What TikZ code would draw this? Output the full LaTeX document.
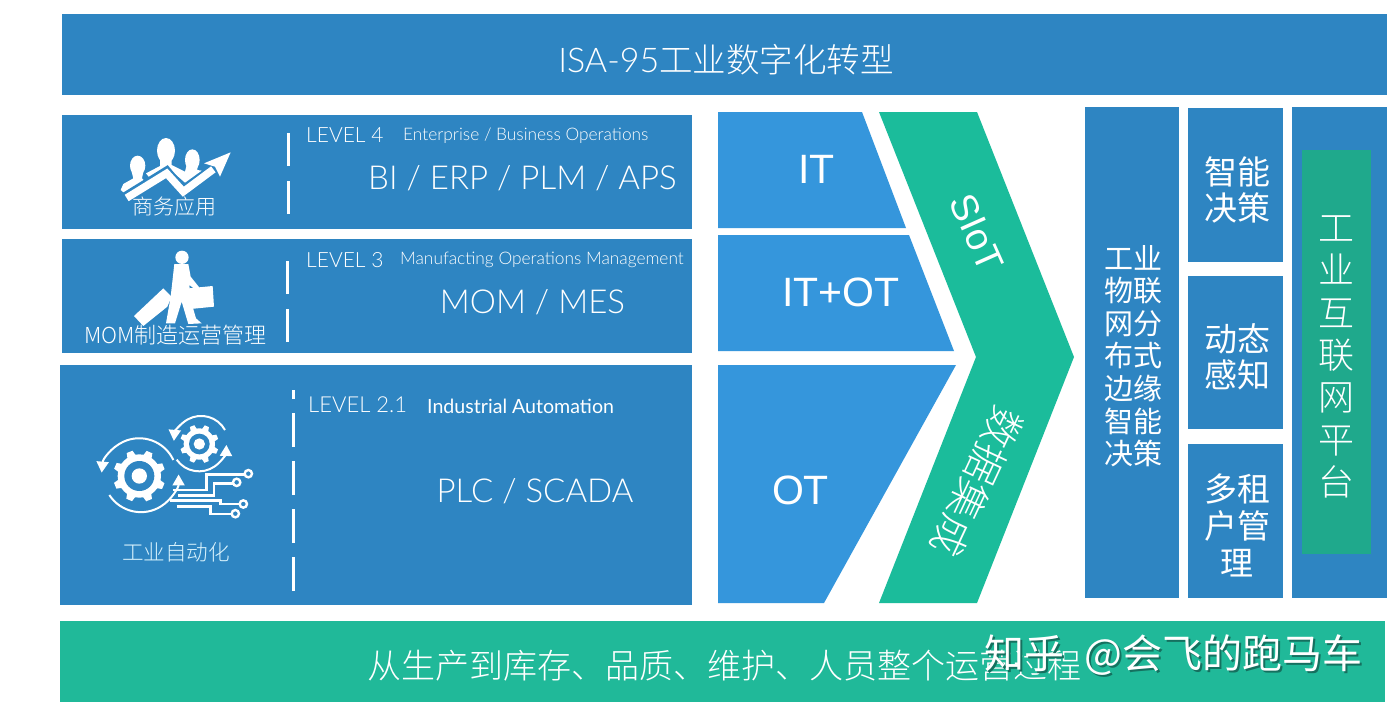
\documentclass[tikz,border=0pt]{standalone}
\usepackage{fontspec}
\usepackage{xcolor}
\usetikzlibrary{arrows.meta}
\setmainfont{Lato Light}
\newfontfamily\lato{Lato}
\newfontfamily\cjk{Noto Sans CJK SC Light}
\newfontfamily\cjkreg{Noto Sans CJK SC}
\newfontfamily\arial{Liberation Sans}
\definecolor{panelblue}{HTML}{2E85C2}
\definecolor{blockblue}{HTML}{3596DC}
\definecolor{chevgreen}{HTML}{1BBC9B}
\definecolor{bargreen}{HTML}{20B999}
\definecolor{innergreen}{HTML}{1FA98C}
\definecolor{shadowgreen}{HTML}{15705F}
\begin{document}
\begin{tikzpicture}[
    x=1pt, y=-1pt,
    panel/.style={fill=panelblue, inner sep=0pt, text=white},
    txt/.style={inner sep=0pt, text=white, align=center},
    lvl/.style={txt, anchor=west, font=\fontsize{21}{21}\selectfont},
    sub/.style={txt, anchor=west, font=\fontsize{17.3}{17.3}\selectfont},
    big/.style={txt, font=\fontsize{33}{33}\selectfont},
    blk/.style={txt, font=\arial\fontsize{41}{41}\selectfont},
    tag/.style={txt, font=\cjk\fontsize{21}{21}\selectfont},
    divider/.style={white, line width=3pt},
    wire/.style={white, line width=2.4pt},
    turn/.style={white, line width=2pt, -{Triangle[length=11pt, width=12pt]}}
]
\useasboundingbox (0,0) rectangle (1400,715);
\fill[white] (0,0) rectangle (1400,715);

% title and bottom bars
\node[panel, minimum width=1325, minimum height=81] (title) at (724.5,54.5) {};
\node[txt, font=\fontsize{34}{34}\selectfont] (titletext) at (726,60) {ISA-95{\cjk\fontsize{33.5}{33.5}\selectfont 工业数字化转型}};
\node[panel, fill=bargreen, minimum width=1325, minimum height=81] (flow) at (722.5,661.5) {};
\node[txt, font=\cjk\fontsize{34}{34}\selectfont] (flowtext) at (724,666) {从生产到库存、品质、维护、人员整个运营过程};

% levels
\node[panel, minimum width=630, minimum height=114] (lv4) at (377,172) {};
\node[panel, minimum width=630, minimum height=114] (lv3) at (377,296) {};
\node[panel, minimum width=632, minimum height=240] (lv2) at (376,485) {};
\draw[divider, dash pattern=on 33pt off 15pt] (288.5,214) -- (288.5,133);
\draw[divider, dash pattern=on 33pt off 15pt] (287.5,342) -- (287.5,261);
\draw[divider, dash pattern=on 34pt off 14pt] (293.5,591) -- (293.5,390);

\node[lvl] (lv4name) at (306,135) {LEVEL 4};
\node[sub] (lv4sub) at (403,136) {Enterprise / Business Operations};
\node[big] (lv4app) at (522.5,178) {BI / ERP / PLM / APS};
\node[lvl] (lv3name) at (306,260) {LEVEL 3};
\node[sub] (lv3sub) at (400,260) {Manufacting Operations Management};
\node[big] (lv3app) at (532.5,302) {MOM / MES};
\node[lvl, font=\fontsize{22}{22}\selectfont] (lv2name) at (308,405) {LEVEL 2.1};
\node[sub, font=\lato\fontsize{19.6}{19.6}\selectfont] (lv2sub) at (427,406) {Industrial Automation};
\node[big] (lv2app) at (535,491) {PLC / SCADA};

% business icon
\begin{scope}[shift={(60,110)}, scale=1/3]
\fill[white] (233,167) ellipse (23 and 30) (318,122) ellipse (27 and 38) (397,150) ellipse (22 and 32);
\fill[white] (215,185) -- (250,185) -- (246,205) -- (258,218) -- (200,255) -- (182,240) -- (190,222) -- (220,205) -- cycle;
\fill[white] (300,145) -- (335,145) -- (335,165) -- (375,185) -- (380,165) -- (412,165) -- (412,180) -- (425,182) -- (375,218) -- (320,170) -- (270,205) -- (258,190) -- (300,168) -- cycle;
\draw[panelblue, line width=10pt] (195,262) -- (320,185) -- (370,245) -- (460,180);
\draw[white, line width=7.5pt] (200,264) -- (320,190) -- (370,245) -- (460,178);
\fill[white] (432,160) -- (512,127) -- (480,200) -- (465,170) -- cycle;
\end{scope}
\node[tag] (tagbiz) at (174.5,207) {商务应用};

% traveller icon
\begin{scope}[shift={(60,110)}, scale=1/3]
\fill[white] (366,442) circle (20);
\fill[white] (343,462) -- (385,462) -- (392,500) -- (420,535) -- (408,540) -- (388,525) -- (392,570) -- (408,625) -- (425,640) -- (385,642) -- (365,575) -- (345,640) -- (318,640) -- (332,560) -- cycle;
\fill[white] (222,618) -- (310,535) -- (335,560) -- (322,590) -- (250,648) -- cycle;
\fill[white] (387,535) -- (458,528) -- (462,590) -- (392,597) -- cycle;
\end{scope}
\node[tag, font=\cjk\fontsize{22}{22}\selectfont] (tagmom) at (175.5,335.5) {MOM制造运营管理};

% automation icon
\begin{scope}[shift={(60,380)}, scale=1/3]
\foreach \cx/\cy/\ro/\rm/\rc/\rt in {238/288/65/45/23/78, 418/192/47/31/17/58}{
  \fill[white] (\cx,\cy) circle (\ro);
  \foreach \a in {0,45,...,315}
    \fill[white, shift={(\cx,\cy)}, rotate=\a+22] (\ro-3,-0.17*\rt) -- (\rt,-0.12*\rt) -- (\rt,0.12*\rt) -- (\ro-3,0.17*\rt) -- cycle;
  \fill[panelblue] (\cx,\cy) circle (\rm);
  \fill[white] (\cx,\cy) circle (\rc);
}
\draw[turn] (340,240) arc[start angle=-25, end angle=-175, radius=113];
\draw[turn] (148,345) arc[start angle=147, end angle=0, radius=113];
\draw[turn] (495,150) arc[start angle=-29, end angle=-175, radius=82];
\draw[turn] (350,239) arc[start angle=145, end angle=2, radius=82];
\draw[wire] (340,330) -- (440,330) -- (440,283) -- (555,283);
\draw[wire] (355,347) -- (462,347) -- (462,310) -- (520,310);
\draw[wire] (330,362) -- (482,362) -- (482,372) -- (540,372);
\draw[wire] (350,380) -- (452,380) -- (452,402) -- (515,402);
\foreach \cx/\cy in {565/281, 530/307, 550/372, 526/401}
  \draw[white, line width=2.4pt, fill=panelblue] (\cx,\cy) circle (11);
\end{scope}
\node[tag, text=white!85!cyan, font=\cjk\fontsize{21.6}{21.6}\selectfont] (tagauto) at (176,552) {工业自动化};

% it and ot blocks
\fill[blockblue] (718,112) -- (862,112) -- (906,228) -- (718,228) -- cycle;
\fill[blockblue] (718,235) -- (909,235) -- (954,351) -- (718,351) -- cycle;
\fill[blockblue] (718,365) -- (956,365) -- (824,603) -- (718,603) -- cycle;
\fill[chevgreen] (879,112) -- (977,112) -- (1074,357) -- (977,603) -- (879,603) -- (976,357) -- cycle;
\node[blk] (it) at (816.5,169) {IT};
\node[blk] (itot) at (841,292) {IT+OT};
\node[blk] (ot) at (800.5,490) {OT};
\node[txt, font=\arial\fontsize{38}{38}\selectfont, rotate=-66] (siot) at (977,233) {SIoT};
\node[txt, font=\cjk\fontsize{40}{40}\selectfont, rotate=-115] (shuju) at (977,482) {数据集成};

% right columns
\node[panel, minimum width=94, minimum height=491] (edge) at (1132,352.5) {};
\node[txt, font=\cjkreg\fontsize{29}{32.6}\selectfont] (edgetext) at (1133,356)
    {工业\\物联\\网分\\布式\\边缘\\智能\\决策};
\node[panel, minimum width=95, minimum height=154] (smart) at (1235.5,185) {};
\node[panel, minimum width=95, minimum height=153] (sense) at (1235.5,352.5) {};
\node[panel, minimum width=95, minimum height=154] (tenant) at (1235.5,521) {};
\node[txt, font=\cjkreg\fontsize{33}{36}\selectfont] (smarttext) at (1237,190) {智能\\决策};
\node[txt, font=\cjkreg\fontsize{33}{36}\selectfont] (sensetext) at (1237,357) {动态\\感知};
\node[txt, font=\cjkreg\fontsize{33}{37}\selectfont] (tenanttext) at (1237,525) {多租\\户管\\理};
\node[panel, minimum width=95, minimum height=491] (platform) at (1339.5,352.5) {};
\node[panel, fill=innergreen, minimum width=69, minimum height=404] (inner) at (1336.5,352) {};
\node[txt, font=\cjk\fontsize{36}{42.3}\selectfont] (platformtext) at (1336.5,357)
    {工\\业\\互\\联\\网\\平\\台};

% watermark
\node[txt, text=shadowgreen, font=\cjkreg\fontsize{40}{40}\selectfont, anchor=west] (markshadow) at (986,657) {知乎\hspace{11pt} @会飞的跑马车};
\node[txt, font=\cjkreg\fontsize{40}{40}\selectfont, anchor=west] (mark) at (984,655) {知乎\hspace{11pt} @会飞的跑马车};
\end{tikzpicture}
\end{document}
